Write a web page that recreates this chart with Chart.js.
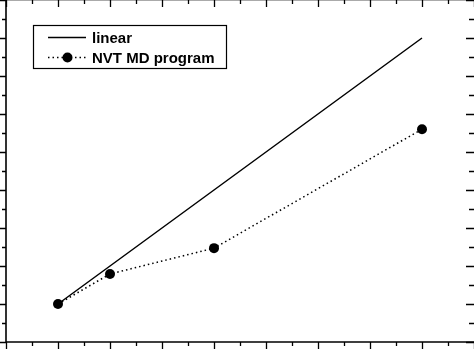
<!DOCTYPE html>
<html>
<head>
<meta charset="utf-8">
<script src="https://cdn.jsdelivr.net/npm/chart.js@4/dist/chart.umd.min.js"></script>
<style>
  html, body { margin: 0; padding: 0; background: #fff; }
  #wrap { width: 474px; height: 349px; position: relative; }
</style>
</head>
<body>
<div id="wrap"><canvas id="chart"></canvas></div>
<script>
  var procs = [1, 2, 4, 8];
  var linearSpeedup = [1, 2, 4, 8];
  var mdSpeedup = [1, 1.79, 2.47, 5.6];
  var seriesNames = ['linear', 'NVT MD program'];
  var axisMin = 0, axisMax = 9;

  function toPoints(xs, ys) {
    return xs.map(function (x, i) { return {x: x, y: ys[i]}; });
  }

  // frame with minor/major ticks: outward on left/bottom, inward on top/right
  var frameTicks = {
    id: 'frameTicks',
    afterDatasetsDraw: function (chart) {
      var ctx = chart.ctx, a = chart.chartArea;
      var xs = chart.scales.x, ys = chart.scales.y;
      ctx.save();
      // left + bottom frame
      ctx.strokeStyle = '#000';
      ctx.lineWidth = 1.6;
      ctx.beginPath();
      ctx.moveTo(a.left, a.top); ctx.lineTo(a.left, a.bottom); ctx.lineTo(a.right, a.bottom);
      ctx.stroke();
      // top edge is mostly cut off in the original, only a grey sliver left
      ctx.strokeStyle = '#aaa';
      ctx.lineWidth = 2;
      ctx.beginPath();
      ctx.moveTo(a.left, a.top); ctx.lineTo(a.right - 7, a.top);
      ctx.stroke();

      ctx.strokeStyle = '#000';
      ctx.lineWidth = 1.3;
      ctx.beginPath();
      for (var v = axisMin; v <= axisMax; v += 0.5) {
        var len = (v % 1 === 0) ? 7 : 4;
        var px = Math.round(xs.getPixelForValue(v)) + 0.5;
        var py = Math.round(ys.getPixelForValue(v)) + 0.5;
        // bottom
        ctx.moveTo(px, a.bottom); ctx.lineTo(px, a.bottom + len);
        // top
        ctx.moveTo(px, a.top); ctx.lineTo(px, a.top + len);
        // left
        ctx.moveTo(a.left, py); ctx.lineTo(a.left - len, py);
        // right
        ctx.moveTo(a.right, py); ctx.lineTo(a.right - len - 1, py);
      }
      ctx.stroke();
      ctx.restore();
    }
  };

  // boxed legend like the original plot
  var boxLegend = {
    id: 'boxLegend',
    afterDraw: function (chart) {
      var ctx = chart.ctx;
      var ds = chart.data.datasets;
      ctx.save();
      ctx.strokeStyle = '#000';
      ctx.lineWidth = 1.2;
      ctx.strokeRect(33.5, 25.5, 193, 43);
      ctx.font = 'bold 15px "Liberation Sans", Arial, sans-serif';
      ctx.fillStyle = '#000';
      ctx.textBaseline = 'alphabetic';

      // row 1: solid line
      ctx.lineWidth = 1.5;
      ctx.beginPath();
      ctx.moveTo(48, 37.5); ctx.lineTo(86, 37.5);
      ctx.stroke();
      ctx.fillText(ds[0].label, 92, 43);

      // row 2: dotted line + dot
      ctx.setLineDash([1.5, 3]);
      ctx.beginPath();
      ctx.moveTo(48, 57.5); ctx.lineTo(86, 57.5);
      ctx.stroke();
      ctx.setLineDash([]);
      ctx.beginPath();
      ctx.arc(67.5, 57.5, 5, 0, Math.PI * 2);
      ctx.fill();
      ctx.fillText(ds[1].label, 92, 63);
      ctx.restore();
    }
  };

  new Chart(document.getElementById('chart'), {
    type: 'scatter',
    data: {
      datasets: [
        {
          label: seriesNames[0],
          data: toPoints(procs, linearSpeedup),
          showLine: true,
          borderColor: '#000',
          borderWidth: 1.5,
          pointRadius: 0
        },
        {
          label: seriesNames[1],
          data: toPoints(procs, mdSpeedup),
          showLine: true,
          borderColor: '#000',
          borderWidth: 1.5,
          borderDash: [1.5, 3],
          pointRadius: 5,
          pointBackgroundColor: '#000',
          pointBorderColor: '#000',
          pointBorderWidth: 0
        }
      ]
    },
    options: {
      responsive: true,
      maintainAspectRatio: false,
      animation: false,
      layout: { padding: 0, autoPadding: false },
      plugins: {
        legend: { display: false },
        tooltip: { enabled: false }
      },
      scales: {
        x: {
          type: 'linear',
          min: axisMin, max: axisMax,
          grid: { display: false },
          border: { display: false },
          ticks: { display: false },
          afterFit: function (s) { s.height = 7; }
        },
        y: {
          type: 'linear',
          min: axisMin, max: axisMax,
          grid: { display: false },
          border: { display: false },
          ticks: { display: false },
          afterFit: function (s) { s.width = 6; }
        }
      }
    },
    plugins: [frameTicks, boxLegend]
  });
</script>
</body>
</html>
